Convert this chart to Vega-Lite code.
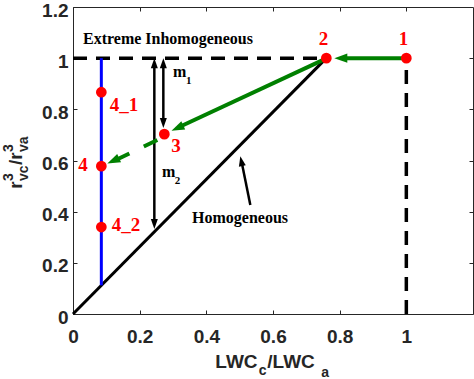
{
  "$schema": "https://vega.github.io/schema/vega-lite/v6.json",
  "width": 400,
  "height": 307,
  "autosize": {"type": "none"},
  "padding": {"left": 73, "top": 7, "right": 1, "bottom": 65},
  "config": {
    "view": {"stroke": "#262626", "strokeWidth": 1},
    "axis": {"grid": false, "title": null, "tickColor": "#262626", "domainColor": "#262626", "tickSize": -4, "labelFlush": false, "labelOverlap": false, "labelBound": false}
  },
  "resolve": {"axis": {"x": "independent", "y": "independent"}},
  "datasets": {
    "segs": [
      {"kind": "dash", "x": 0, "y": 1, "x2": 0.76, "y2": 1},
      {"kind": "dash", "x": 1, "y": 0, "x2": 1, "y2": 1},
      {"kind": "diag", "x": 0, "y": 0, "x2": 0.76, "y2": 1},
      {"kind": "blue", "x": 0.085, "y": 0.112, "x2": 0.085, "y2": 1},
      {"kind": "black", "x": 0.271, "y": 0.975, "x2": 0.271, "y2": 0.75},
      {"kind": "black", "x": 0.244, "y": 0.975, "x2": 0.244, "y2": 0.355},
      {"kind": "black", "x": 0.532, "y": 0.426, "x2": 0.507, "y2": 0.587},
      {"kind": "green", "x": 1, "y": 1, "x2": 0.81, "y2": 1},
      {"kind": "green", "x": 0.762, "y": 1, "x2": 0.317, "y2": 0.73},
      {"kind": "greendash", "x": 0.253, "y": 0.68, "x2": 0.125, "y2": 0.6}
    ],
    "heads": [
      {"kind": "g180", "x": 0.784, "y": 1},
      {"kind": "g155", "x": 0.2955, "y": 0.716},
      {"kind": "g155", "x": 0.103, "y": 0.588},
      {"kind": "bup", "x": 0.271, "y": 1},
      {"kind": "bup", "x": 0.244, "y": 1},
      {"kind": "bdown", "x": 0.271, "y": 0.727},
      {"kind": "bdown", "x": 0.244, "y": 0.332},
      {"kind": "bptr", "x": 0.502, "y": 0.617}
    ],
    "pts": [
      {"name": "1", "x": 1, "y": 1},
      {"name": "2", "x": 0.76, "y": 1},
      {"name": "3", "x": 0.274, "y": 0.703},
      {"name": "4", "x": 0.085, "y": 0.578},
      {"name": "4_1", "x": 0.085, "y": 0.867},
      {"name": "4_2", "x": 0.085, "y": 0.34}
    ],
    "ptlabels": [
      {"t": "1", "x": 0.977, "y": 1.051},
      {"t": "2", "x": 0.737, "y": 1.051},
      {"t": "3", "x": 0.295, "y": 0.633},
      {"t": "4", "x": 0.016, "y": 0.559},
      {"t": "4_1", "x": 0.11, "y": 0.794},
      {"t": "4_2", "x": 0.116, "y": 0.325}
    ],
    "ann": [
      {"t": "Extreme Inhomogeneous", "x": 0.03, "y": 1.055},
      {"t": "Homogeneous", "x": 0.357, "y": 0.355},
      {"t": "m", "x": 0.3, "y": 0.926},
      {"t": "m", "x": 0.267, "y": 0.535}
    ],
    "annsub": [
      {"t": "1", "x": 0.339, "y": 0.9},
      {"t": "2", "x": 0.305, "y": 0.51}
    ],
    "xtb": [
      {"t": "LWC", "x": 0.427, "y": -0.211},
      {"t": "/LWC", "x": 0.583, "y": -0.211}
    ],
    "xts": [
      {"t": "c", "x": 0.5575, "y": -0.238},
      {"t": "a", "x": 0.745, "y": -0.246}
    ],
    "ytb": [
      {"t": "r", "x": -0.152, "y": 0.49},
      {"t": "/r", "x": -0.152, "y": 0.582}
    ],
    "yts": [
      {"t": "3", "x": -0.179, "y": 0.52},
      {"t": "vc", "x": -0.134, "y": 0.52},
      {"t": "3", "x": -0.179, "y": 0.633},
      {"t": "va", "x": -0.134, "y": 0.633}
    ]
  },
  "layer": [
    {
      "data": {"name": "segs"},
      "transform": [{"filter": "datum.kind === 'dash'"}],
      "mark": {"type": "rule", "color": "black", "strokeWidth": 3.5, "strokeDash": [14, 9]},
      "encoding": {
        "x": {"field": "x", "type": "quantitative", "scale": {"domain": [0, 1.2], "nice": false, "zero": false},
          "axis": {"orient": "bottom", "values": [0, 0.2, 0.4, 0.6, 0.8, 1], "format": "~g", "labelPadding": 17, "labelFont": "Liberation Sans", "labelFontWeight": "bold", "labelFontSize": 19, "labelColor": "#262626"}},
        "y": {"field": "y", "type": "quantitative", "scale": {"domain": [0, 1.2], "nice": false, "zero": false},
          "axis": {"orient": "left", "values": [0, 0.2, 0.4, 0.6, 0.8, 1, 1.2], "format": "~g", "labelPadding": 9, "labelOffset": 3, "labelFont": "Liberation Sans", "labelFontWeight": "bold", "labelFontSize": 19, "labelColor": "#262626"}},
        "x2": {"field": "x2"},
        "y2": {"field": "y2"}
      }
    },
    {
      "data": {"name": "segs"},
      "transform": [{"filter": "datum.kind === 'diag'"}],
      "mark": {"type": "rule", "color": "black", "strokeWidth": 3},
      "encoding": {
        "x": {"field": "x", "type": "quantitative", "axis": {"orient": "top", "values": [0.2, 0.4, 0.6, 0.8, 1], "labels": false, "domain": false}},
        "y": {"field": "y", "type": "quantitative", "axis": {"orient": "right", "values": [0.2, 0.4, 0.6, 0.8, 1], "labels": false, "domain": false}},
        "x2": {"field": "x2"},
        "y2": {"field": "y2"}
      }
    },
    {
      "data": {"name": "segs"},
      "transform": [{"filter": "datum.kind === 'blue'"}],
      "mark": {"type": "rule", "color": "#0000ff", "strokeWidth": 3},
      "encoding": {
        "x": {"field": "x", "type": "quantitative", "axis": null},
        "y": {"field": "y", "type": "quantitative", "axis": null},
        "x2": {"field": "x2"},
        "y2": {"field": "y2"}
      }
    },
    {
      "data": {"name": "segs"},
      "transform": [{"filter": "datum.kind === 'black'"}],
      "mark": {"type": "rule", "color": "black", "strokeWidth": 2.5},
      "encoding": {
        "x": {"field": "x", "type": "quantitative", "axis": null},
        "y": {"field": "y", "type": "quantitative", "axis": null},
        "x2": {"field": "x2"},
        "y2": {"field": "y2"}
      }
    },
    {
      "data": {"name": "heads"},
      "transform": [{"filter": "datum.kind === 'bup'"}],
      "mark": {"type": "point", "shape": "M0,0L-2,-0.7L-2,0.7Z", "filled": true, "size": 100, "angle": 270, "color": "black", "opacity": 1, "strokeWidth": 0},
      "encoding": {
        "x": {"field": "x", "type": "quantitative", "axis": null},
        "y": {"field": "y", "type": "quantitative", "axis": null}
      }
    },
    {
      "data": {"name": "heads"},
      "transform": [{"filter": "datum.kind === 'bdown'"}],
      "mark": {"type": "point", "shape": "M0,0L-2,-0.7L-2,0.7Z", "filled": true, "size": 100, "angle": 90, "color": "black", "opacity": 1, "strokeWidth": 0},
      "encoding": {
        "x": {"field": "x", "type": "quantitative", "axis": null},
        "y": {"field": "y", "type": "quantitative", "axis": null}
      }
    },
    {
      "data": {"name": "heads"},
      "transform": [{"filter": "datum.kind === 'bptr'"}],
      "mark": {"type": "point", "shape": "M0,0L-2,-0.7L-2,0.7Z", "filled": true, "size": 100, "angle": 258.5, "color": "black", "opacity": 1, "strokeWidth": 0},
      "encoding": {
        "x": {"field": "x", "type": "quantitative", "axis": null},
        "y": {"field": "y", "type": "quantitative", "axis": null}
      }
    },
    {
      "data": {"name": "segs"},
      "transform": [{"filter": "datum.kind === 'green'"}],
      "mark": {"type": "rule", "color": "#008000", "strokeWidth": 4},
      "encoding": {
        "x": {"field": "x", "type": "quantitative", "axis": null},
        "y": {"field": "y", "type": "quantitative", "axis": null},
        "x2": {"field": "x2"},
        "y2": {"field": "y2"}
      }
    },
    {
      "data": {"name": "segs"},
      "transform": [{"filter": "datum.kind === 'greendash'"}],
      "mark": {"type": "rule", "color": "#008000", "strokeWidth": 4, "strokeDash": [15, 16]},
      "encoding": {
        "x": {"field": "x", "type": "quantitative", "axis": null},
        "y": {"field": "y", "type": "quantitative", "axis": null},
        "x2": {"field": "x2"},
        "y2": {"field": "y2"}
      }
    },
    {
      "data": {"name": "heads"},
      "transform": [{"filter": "datum.kind === 'g180'"}],
      "mark": {"type": "point", "shape": "M0,0L-2,-0.7L-2,0.7Z", "filled": true, "size": 169, "angle": 180, "color": "#008000", "opacity": 1, "strokeWidth": 0},
      "encoding": {
        "x": {"field": "x", "type": "quantitative", "axis": null},
        "y": {"field": "y", "type": "quantitative", "axis": null}
      }
    },
    {
      "data": {"name": "heads"},
      "transform": [{"filter": "datum.kind === 'g155'"}],
      "mark": {"type": "point", "shape": "M0,0L-2,-0.7L-2,0.7Z", "filled": true, "size": 169, "angle": 155, "color": "#008000", "opacity": 1, "strokeWidth": 0},
      "encoding": {
        "x": {"field": "x", "type": "quantitative", "axis": null},
        "y": {"field": "y", "type": "quantitative", "axis": null}
      }
    },
    {
      "data": {"name": "pts"},
      "mark": {"type": "circle", "size": 115, "color": "#ff0000", "opacity": 1},
      "encoding": {
        "x": {"field": "x", "type": "quantitative", "axis": null},
        "y": {"field": "y", "type": "quantitative", "axis": null}
      }
    },
    {
      "data": {"name": "ptlabels"},
      "mark": {"type": "text", "align": "left", "baseline": "alphabetic", "font": "Liberation Serif", "fontWeight": "bold", "fontSize": 19, "color": "#ff0000"},
      "encoding": {
        "x": {"field": "x", "type": "quantitative", "axis": null},
        "y": {"field": "y", "type": "quantitative", "axis": null},
        "text": {"field": "t"}
      }
    },
    {
      "data": {"name": "ann"},
      "mark": {"type": "text", "align": "left", "baseline": "alphabetic", "font": "Liberation Serif", "fontWeight": "bold", "fontSize": 16, "color": "black"},
      "encoding": {
        "x": {"field": "x", "type": "quantitative", "axis": null},
        "y": {"field": "y", "type": "quantitative", "axis": null},
        "text": {"field": "t"}
      }
    },
    {
      "data": {"name": "annsub"},
      "mark": {"type": "text", "align": "left", "baseline": "alphabetic", "font": "Liberation Serif", "fontWeight": "bold", "fontSize": 11, "color": "black"},
      "encoding": {
        "x": {"field": "x", "type": "quantitative", "axis": null},
        "y": {"field": "y", "type": "quantitative", "axis": null},
        "text": {"field": "t"}
      }
    },
    {
      "data": {"name": "xtb"},
      "mark": {"type": "text", "align": "left", "baseline": "alphabetic", "font": "Liberation Sans", "fontWeight": "bold", "fontSize": 19, "color": "#262626"},
      "encoding": {
        "x": {"field": "x", "type": "quantitative", "axis": null},
        "y": {"field": "y", "type": "quantitative", "axis": null},
        "text": {"field": "t"}
      }
    },
    {
      "data": {"name": "xts"},
      "mark": {"type": "text", "align": "left", "baseline": "alphabetic", "font": "Liberation Sans", "fontWeight": "bold", "fontSize": 14, "color": "#262626"},
      "encoding": {
        "x": {"field": "x", "type": "quantitative", "axis": null},
        "y": {"field": "y", "type": "quantitative", "axis": null},
        "text": {"field": "t"}
      }
    },
    {
      "data": {"name": "ytb"},
      "mark": {"type": "text", "align": "left", "baseline": "alphabetic", "angle": 270, "font": "Liberation Sans", "fontWeight": "bold", "fontSize": 19, "color": "#262626"},
      "encoding": {
        "x": {"field": "x", "type": "quantitative", "axis": null},
        "y": {"field": "y", "type": "quantitative", "axis": null},
        "text": {"field": "t"}
      }
    },
    {
      "data": {"name": "yts"},
      "mark": {"type": "text", "align": "left", "baseline": "alphabetic", "angle": 270, "font": "Liberation Sans", "fontWeight": "bold", "fontSize": 14, "color": "#262626"},
      "encoding": {
        "x": {"field": "x", "type": "quantitative", "axis": null},
        "y": {"field": "y", "type": "quantitative", "axis": null},
        "text": {"field": "t"}
      }
    }
  ]
}
